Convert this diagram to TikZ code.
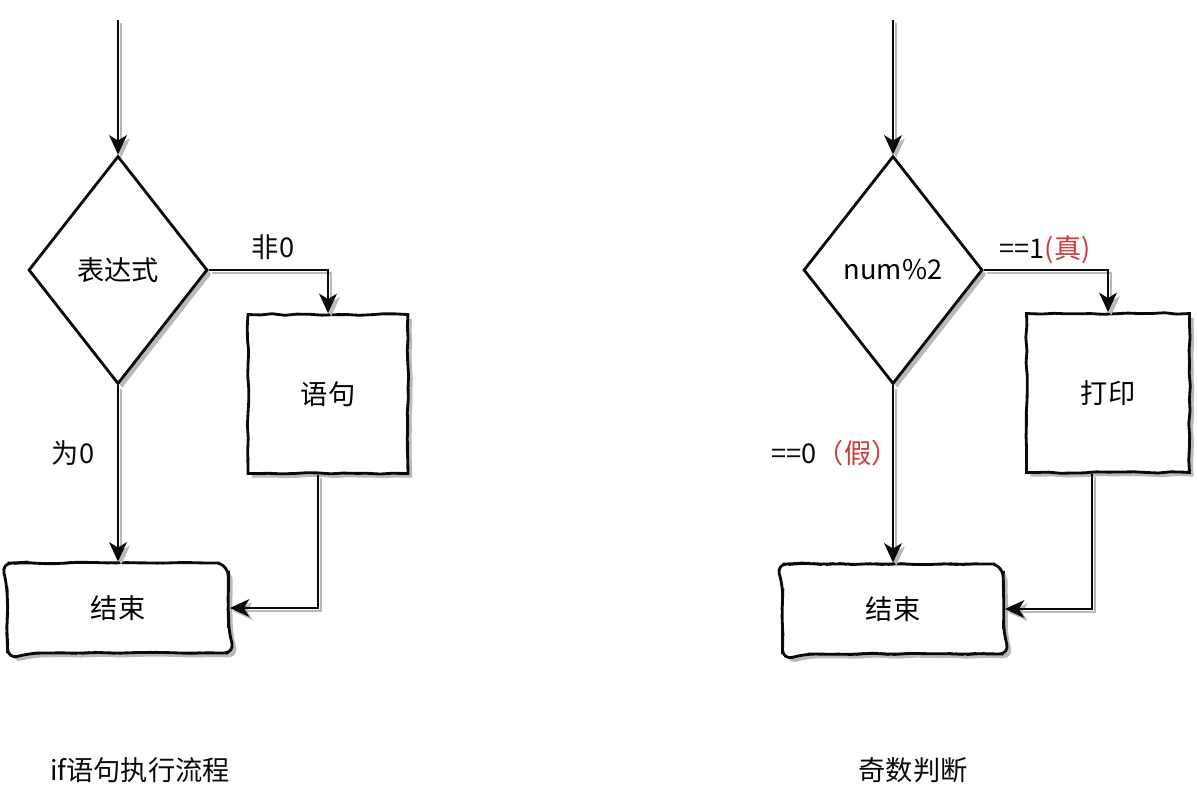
\documentclass[tikz,border=0pt]{standalone}
\usepackage{fontspec}
\setmainfont{Noto Sans CJK SC}
\usetikzlibrary{arrows.meta, shapes.geometric, shadows, decorations.pathmorphing}
\definecolor{inkcol}{RGB}{10,10,10}
\definecolor{shadecol}{RGB}{185,185,185}
\definecolor{flagcol}{RGB}{205,60,60}
\tikzset{
  sketchy/.style={decorate, decoration={random steps, segment length=7pt, amplitude=0.45pt,
    pre length=5pt, post length=5pt}},
  shade/.style={drop shadow={shadow xshift=2.4pt, shadow yshift=-2.4pt, fill=shadecol, opacity=1}},
  cond/.style={shape=diamond, draw=inkcol, fill=white, line width=1.6pt, inner sep=0pt,
    minimum width=3.58cm, minimum height=4.56cm, shade},
  stmt/.style={rectangle, draw=inkcol, fill=white, line width=1.6pt, sketchy,
    minimum width=3.2cm, minimum height=3.18cm, shade},
  term/.style={rectangle, draw=inkcol, fill=white, line width=1.6pt, sketchy, rounded corners=6pt,
    minimum width=4.42cm, minimum height=1.8cm, shade},
  flow/.style={draw=inkcol, line width=1.6pt, -{Stealth[length=11pt, width=10pt, inset=3pt]},
    preaction={draw=shadecol, line width=1.4pt, transform canvas={shift={(1.8pt,-1.8pt)}}}},
  tag/.style={text=inkcol}
}

\begin{document}
\begin{tikzpicture}[x=0.02cm, y=-0.02cm, font=\fontsize{15.5}{18}\selectfont]
  \pgfmathsetseed{7}
  \useasboundingbox (0,0) rectangle (1197,806);

  % --- left: if flow ------------------------------------------------------
  \coordinate (inL) at (118,20);
  \node[cond] (condL) at (118,270) {表达式};
  \node[stmt] (stmtL) at (328,394) {语句};
  \node[term] (endL)  at (118,608) {结束};

  \draw[flow] (inL) -- (condL.north);
  \draw[flow] (condL.east) -| (stmtL.north);
  \draw[flow] (condL.south) -- (endL.north);
  \draw[flow] ([xshift=-0.2cm]stmtL.south) |- (endL.east);

  \node[tag] (lblNZ) at (273,247) {非0};
  \node[tag] (lblZ)  at (73,453)  {为0};
  \node[tag] (capL)  at (140,770) {if语句执行流程};

  % --- right: odd number check --------------------------------------------
  \coordinate (inR) at (893,20);
  \node[cond] (condR) at (893,270) {num\%2};
  \node[stmt, minimum width=3.26cm] (prtR) at (1108,393) {打印};
  \node[term] (endR)  at (893,609) {结束};

  \draw[flow] (inR) -- (condR.north);
  \draw[flow] (condR.east) -| (prtR.north);
  \draw[flow] (condR.south) -- (endR.north);
  \draw[flow] ([xshift=-0.32cm]prtR.south) |- (endR.east);

  \node[tag] (lblOne)  at (1045,250) {==1\textcolor{flagcol}{(真)}};
  \node[tag] (lblZero) at (835,453)  {==0\textcolor{flagcol}{（假）}};
  \node[tag] (capR)    at (913,770)  {奇数判断};

\end{tikzpicture}
\end{document}
